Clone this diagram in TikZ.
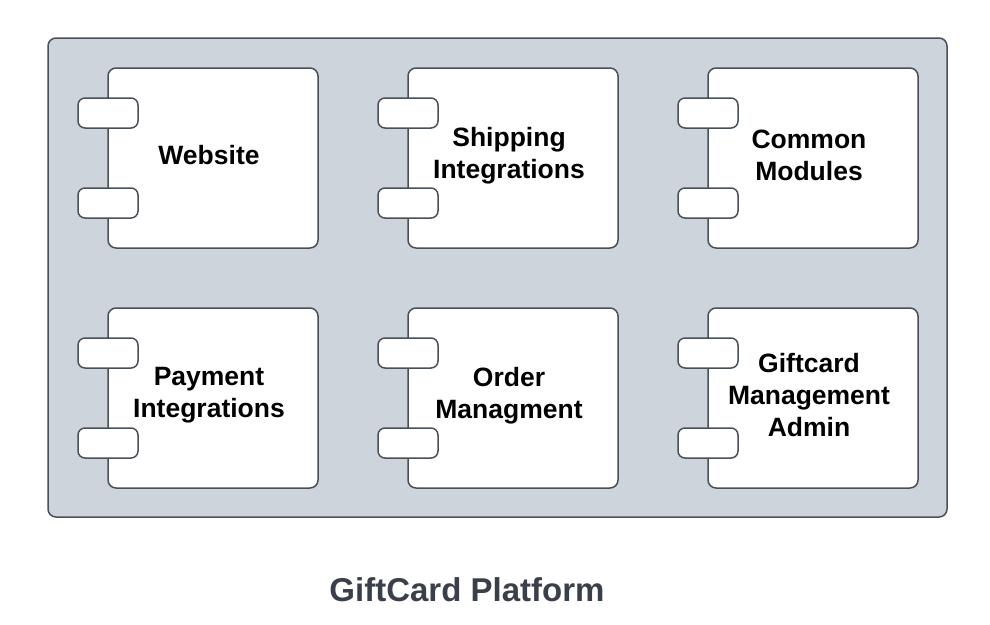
\documentclass[tikz,border=0pt]{standalone}
\usepackage{fontspec}
\setmainfont{Liberation Sans}
\definecolor{frameFill}{RGB}{206,212,220}
\definecolor{lineGray}{RGB}{74,80,88}
\definecolor{titleGray}{RGB}{58,64,74}
\begin{document}
\begin{tikzpicture}[x=1pt,y=-1pt,
  outerbox/.style={draw=lineGray,fill=frameFill,line width=1.5pt,rounded corners=8pt},
  compbox/.style={draw=lineGray,fill=white,line width=1.5pt,rounded corners=8pt,minimum width=210pt,minimum height=180pt,inner sep=0pt},
  portbox/.style={draw=lineGray,fill=white,line width=1.5pt,rounded corners=7pt,minimum width=60pt,minimum height=30pt,inner sep=0pt},
  comptext/.style={font=\fontsize{26.5}{32}\selectfont\bfseries,align=center,text=black},
  titletext/.style={font=\fontsize{33}{40}\selectfont\bfseries,text=titleGray}]
\useasboundingbox (0,0) rectangle (990,624);
\node[outerbox,minimum width=899pt,minimum height=479pt,inner sep=0pt] (frame) at (497.5,277.5) {};
\foreach \n/\x/\y/\t in {web/108/68/Website,ship/408/68/{Shipping\\Integrations},common/708/68/{Common\\Modules},pay/108/308/{Payment\\Integrations},order/408/308/{Order\\Managment},admin/708/308/{Giftcard\\Management\\Admin}}{
  \node[compbox] (\n) at (\x+105,\y+90) {};
  \node[portbox] (\n-p1) at (\x,\y+45) {};
  \node[portbox] (\n-p2) at (\x,\y+135) {};
  \node[comptext] (\n-label) at (\x+101,\y+87.5) {\t};
}
\node[titletext] (title) at (467,590) {GiftCard Platform};
\end{tikzpicture}
\end{document}
